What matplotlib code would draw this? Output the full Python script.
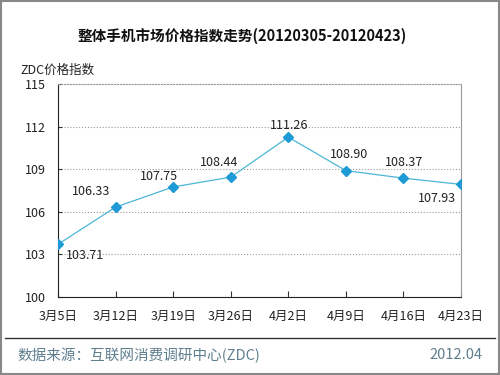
import matplotlib.pyplot as plt
from matplotlib.lines import Line2D
from matplotlib.patches import Rectangle

plt.rcParams['font.family'] = ['Noto Sans CJK SC', 'DejaVu Sans']

# data
dates = ['3月5日', '3月12日', '3月19日', '3月26日', '4月2日', '4月9日', '4月16日', '4月23日']
index_vals = [103.71, 106.33, 107.75, 108.44, 111.26, 108.90, 108.37, 107.93]
y_ticks = [100, 103, 106, 109, 112, 115]

# label offsets in pixels (dx, dy)
offsets = [(27, -11), (-24, 16), (-14, 10), (-12, 15), (1, 12), (3, 16), (1, 16), (-24, -14)]

fig = plt.figure(figsize=(5, 3.75), dpi=100)
ax = fig.add_axes([0.116, 0.208, 0.806, 0.568])

x = list(range(len(dates)))
ax.plot(x, index_vals, color='#4db6d6', linewidth=0.9, marker='D', markersize=5,
        markerfacecolor='#1e9ad6', markeredgecolor='#1e9ad6', zorder=3)

for xi, v, (dx, dy) in zip(x, index_vals, offsets):
    ax.annotate(f'{v:.2f}', (xi, v), xytext=(dx, dy), textcoords='offset pixels',
                ha='center', va='center', fontsize=9, color='#222222')

ax.set_xlim(0, 7)
ax.set_ylim(100, 115)
ax.set_yticks(y_ticks)
ax.set_yticklabels([str(t) for t in y_ticks], fontsize=9, color='#222222')
ax.set_xticks(x)
ax.set_xticklabels(dates, fontsize=9, color='#222222')
ax.tick_params(axis='x', direction='in', length=4, pad=9, color='#333333')
ax.tick_params(axis='y', direction='in', length=3, pad=9, color='#333333')

ax.grid(axis='y', linestyle=':', color='#999999', linewidth=0.8)
ax.spines['left'].set_color('#222222')
ax.spines['bottom'].set_color('#222222')
ax.spines['top'].set_color('#999999')
ax.spines['top'].set_linestyle(':')
ax.spines['right'].set_color('#999999')

fig.text(0.484, 0.904, '整体手机市场价格指数走势(20120305-20120423)', ha='center', va='center',
         fontsize=10.5, fontweight='bold', color='#111111')
fig.text(0.04, 0.813, 'ZDC价格指数', ha='left', va='center', fontsize=9, color='#222222')

fig.add_artist(Line2D([0.01, 0.99], [0.0987, 0.0987], color='#333333', linewidth=1.0))
fig.text(0.034, 0.053, '数据来源：互联网消费调研中心(ZDC)', ha='left', va='center',
         fontsize=10.5, color='#5f7f8f')
fig.text(0.966, 0.053, '2012.04', ha='right', va='center', fontsize=10.5, color='#5f7f8f')

fig.add_artist(Rectangle((0.002, 0.003), 0.996, 0.994, fill=False, edgecolor='#888888', linewidth=1.5))

fig.savefig('out.png', dpi=100)
